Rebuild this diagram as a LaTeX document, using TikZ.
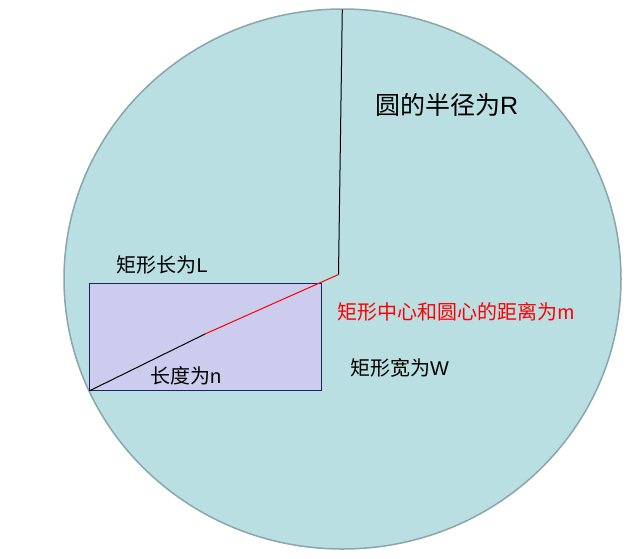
\documentclass[tikz,border=0pt]{standalone}
\usepackage{fontspec}
\newfontfamily\cjk{Noto Sans CJK SC}
\newfontfamily\lat{Liberation Sans}
\usetikzlibrary{positioning}

\definecolor{discfill}{HTML}{B9DFE2}
\definecolor{discline}{HTML}{8AA6AA}
\definecolor{rectfill}{HTML}{CCCCEE}
\definecolor{rectline}{HTML}{1F1F66}

\tikzset{
  lbl/.style={anchor=west,inner sep=0pt,font=\cjk\fontsize{20}{24}\selectfont},
  seg/.style={line width=1pt}
}

\begin{document}
\begin{tikzpicture}[x=1pt,y=-1pt]
\useasboundingbox (0,0) rectangle (635,558);
% Circle
\draw[fill=discfill,draw=discline,line width=1.5pt] (342.5,279) ellipse [x radius=278.5,y radius=270];
% Rectangle
\draw[fill=rectfill,draw=rectline,line width=1pt] (89.5,283.5) rectangle (321.3,390.8);

% Points
\coordinate (O) at (338.5,274.5);
\coordinate (T) at (342.3,9.5);
\coordinate (M) at (205,334);
\coordinate (A) at (89.5,390.8);

% Lines
\draw[seg,black] (O) -- (T);
\draw[seg,red] (O) -- (M);
\draw[seg,black] (M) -- (A);

% Labels
\node[lbl,font=\cjk\fontsize{25}{30}\selectfont] (R) at (375,105) {圆的半径为{\lat R}};
\node[lbl] (L) at (116.5,265) {矩形长为{\lat L}};
\node[lbl,text=red] (m) at (337.5,312) {矩形中心和圆心的距离为{\lat m}};
\node[lbl] (W) at (350,368) {矩形宽为{\lat W}};
\node[lbl] (n) at (150,376) {长度为{\lat n}};

\end{tikzpicture}
\end{document}
